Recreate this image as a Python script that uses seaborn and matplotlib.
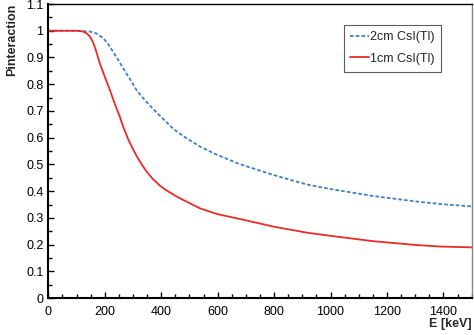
import matplotlib
matplotlib.use("Agg")
import matplotlib.pyplot as plt
import seaborn as sns
import pandas as pd
from matplotlib.ticker import MultipleLocator, FuncFormatter

energy_2cm = [0, 50, 100, 147, 170, 194, 212, 229, 247, 265, 290, 312, 335, 360, 385, 407, 442, 478, 537, 600, 679, 800, 916, 1000, 1152, 1300, 1389, 1500]
p_2cm =      [1.0, 1.0, 1.0, 0.997, 0.99, 0.973, 0.95, 0.922, 0.892, 0.86, 0.818, 0.779, 0.749, 0.72, 0.693, 0.67, 0.634, 0.606, 0.567, 0.535, 0.501, 0.46, 0.425, 0.408, 0.382, 0.362, 0.352, 0.343]

energy_1cm = [0, 50, 100, 123, 135, 147, 156, 164, 173, 182, 200, 218, 235, 253, 265, 283, 300, 318, 336, 352, 370, 395, 419, 450, 480, 537, 600, 679, 800, 916, 1000, 1152, 1300, 1389, 1500]
p_1cm =      [1.0, 1.0, 1.0, 0.997, 0.991, 0.979, 0.962, 0.941, 0.912, 0.879, 0.828, 0.779, 0.728, 0.679, 0.642, 0.594, 0.557, 0.522, 0.492, 0.468, 0.446, 0.421, 0.403, 0.383, 0.366, 0.336, 0.314, 0.296, 0.267, 0.245, 0.233, 0.213, 0.199, 0.193, 0.19]

labels = ["2cm CsI(Tl)", "1cm CsI(Tl)"]

df = pd.concat([
    pd.DataFrame({"E": energy_2cm, "P": p_2cm, "det": labels[0]}),
    pd.DataFrame({"E": energy_1cm, "P": p_1cm, "det": labels[1]}),
])

sns.set_theme(style="ticks")
plt.rcParams["font.family"] = ["Liberation Sans", "DejaVu Sans"]

fig = plt.figure(figsize=(4.74, 3.35), dpi=100)
ax = fig.add_axes([0.102, 0.11, 0.893, 0.878])

sns.lineplot(data=df, x="E", y="P", hue="det", style="det",
             palette={labels[0]: "#3a7fd5", labels[1]: "#ee2a24"},
             dashes={labels[0]: (2, 1.2), labels[1]: ""},
             linewidth=1.3, ax=ax, sort=True)
for ln in ax.get_lines():
    ln.set_solid_joinstyle("round")
    ln.set_dash_joinstyle("round")

ax.set_xlim(0, 1500)
ax.set_ylim(0, 1.1)
ax.xaxis.set_major_locator(MultipleLocator(200))
ax.xaxis.set_minor_locator(MultipleLocator(50))
ax.yaxis.set_major_locator(MultipleLocator(0.1))
ax.yaxis.set_minor_locator(MultipleLocator(0.05))
ax.yaxis.set_major_formatter(FuncFormatter(lambda v, p: f"{v:.1f}".rstrip("0").rstrip(".") if abs(v - round(v)) > 1e-9 else f"{int(round(v))}"))
ax.tick_params(which="both", direction="in", labelsize=9, colors="black")
ax.tick_params(which="major", length=4, width=1)
ax.tick_params(which="minor", length=3, width=1)
ax.tick_params(axis="x", pad=6)
for s in ["left", "bottom"]:
    ax.spines[s].set_linewidth(1.5)
    ax.spines[s].set_color("black")
for s in ["top", "right"]:
    ax.spines[s].set_visible(True)
    ax.spines[s].set_linewidth(1.0)
    ax.spines[s].set_color("#888888")
ax.spines["top"].set_color("black")

ax.set_xlabel("E [keV]", fontsize=9, fontweight="bold", loc="right", labelpad=0)
ax.set_ylabel("Pinteraction", fontsize=9, fontweight="bold", loc="top", labelpad=6)

leg = ax.legend(loc="upper right", bbox_to_anchor=(0.928, 0.93), fontsize=9,
                frameon=True, fancybox=False, edgecolor="#333333",
                handlelength=1.45, handletextpad=0.1, borderpad=0.55, labelspacing=0.75,
                borderaxespad=0)
leg.get_frame().set_linewidth(0.8)

fig.savefig("out.png", dpi=100)
